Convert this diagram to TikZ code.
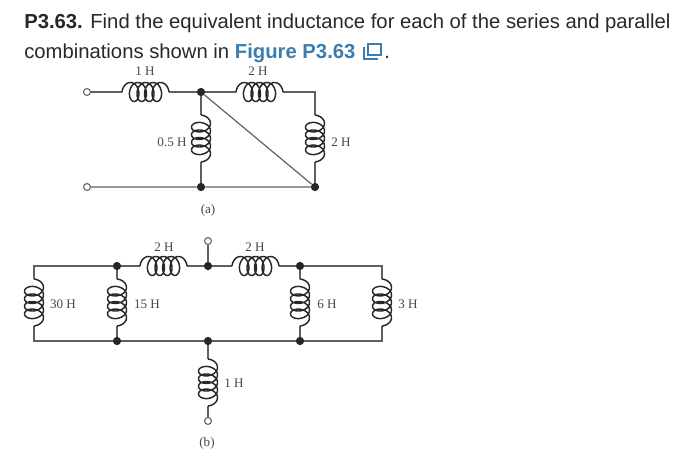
\documentclass[tikz,border=0pt]{standalone}
\usepackage{fontspec}
\setmainfont{Liberation Sans}
\newfontfamily\labelfont{Liberation Serif}
\definecolor{linkblue}{RGB}{60,125,175}
\definecolor{wiregray}{RGB}{95,95,95}
\definecolor{coilgray}{RGB}{40,40,40}
\definecolor{labelgray}{RGB}{70,70,70}
\definecolor{textgray}{RGB}{40,40,40}
\tikzset{
  wire/.style={draw=wiregray,line width=0.9pt},
  coilwire/.style={draw=coilgray,line width=1.1pt,line join=round},
  junction/.style={circle,fill=black!85,inner sep=0pt,minimum size=6.2pt},
  terminal/.style={circle,draw=wiregray,fill=white,line width=0.8pt,inner sep=0pt,minimum size=5.2pt},
  henry/.style={font=\labelfont\fontsize{9.8pt}{11pt}\selectfont,text=labelgray,inner sep=0pt},
  headline/.style={anchor=base west,inner sep=0pt,font=\fontsize{15.2pt}{18pt}\selectfont,text=textgray}
}
% five turns, from a wire end, along x
\newcommand{\coilturns}{plot[variable=\t,domain=0:1620,samples=325] ({\t/1620*34+6.5*(1-cos(\t))},{-9.5*sin(\t)})}
\begin{document}
\begin{tikzpicture}[x=0.75pt,y=-0.75pt]
\useasboundingbox (0,0) rectangle (700,467);
\node[headline] (line1) at (24,29) {\textbf{P3.63.} Find the equivalent inductance for each of the series and parallel};
\node[headline] (line2) at (24,59) {combinations shown in \textcolor{linkblue}{\textbf{Figure P3.63}}};
% link icon
\draw[linkblue,line width=1.2pt] (368,44) rectangle (381,55);
\draw[linkblue,line width=1.2pt] (364,47)--(364,59)--(378,59);
\node[headline] (dot) at (384,59) {.};
% circuit (a)
\node[terminal] (ta1) at (87,92) {};
\node[terminal] (ta2) at (87,187) {};
\node[junction] (ja1) at (201,92) {};
\node[junction] (ja2) at (201,187) {};
\node[junction] (ja3) at (315,187) {};
\coordinate (ca) at (315,92);
\coordinate (L1a) at (122,92);
\coordinate (L1b) at (169,92);
\coordinate (L2a) at (236,92);
\coordinate (L2b) at (283,92);
\coordinate (L3a) at (201,115);
\coordinate (L3b) at (201,162);
\coordinate (L4a) at (315,115);
\coordinate (L4b) at (315,162);
\draw[wire] (ta1)--(L1a) (L1b)--(ja1)--(L2a) (L2b)--(ca)--(L4a) (L4b)--(ja3);
\draw[wire] (ja1)--(L3a) (L3b)--(ja2);
\draw[wire] (ta2)--(ja2)--(ja3)--(ja1);
\foreach \a/\r in {L1a/0,L2a/0,L3a/-90,L4a/-90}
  \draw[coilwire,shift={(\a)},rotate=\r] \coilturns;
\node[henry] (la1) at (145,71) {1 H};
\node[henry] (la2) at (258,71) {2 H};
\node[henry] (la3) at (172,142) {0.5 H};
\node[henry] (la4) at (341,142) {2 H};
\node[henry] (capa) at (208,210) {(a)};
% circuit (b)
\node[terminal] (tb1) at (208,241) {};
\node[terminal] (tb2) at (208,421) {};
\node[junction] (jb1) at (117,266) {};
\node[junction] (jb2) at (208,266) {};
\node[junction] (jb3) at (300,266) {};
\node[junction] (jb4) at (117,341) {};
\node[junction] (jb5) at (208,341) {};
\node[junction] (jb6) at (300,341) {};
\coordinate (cb1) at (34,266);
\coordinate (cb2) at (382,266);
\coordinate (cb3) at (34,341);
\coordinate (cb4) at (382,341);
\coordinate (M1a) at (140,266);
\coordinate (M1b) at (187,266);
\coordinate (M2a) at (232,266);
\coordinate (M2b) at (279,266);
\coordinate (M3a) at (34,279);
\coordinate (M3b) at (34,326);
\coordinate (M4a) at (117,279);
\coordinate (M4b) at (117,326);
\coordinate (M5a) at (300,279);
\coordinate (M5b) at (300,326);
\coordinate (M6a) at (382,279);
\coordinate (M6b) at (382,326);
\coordinate (M7a) at (208,359);
\coordinate (M7b) at (208,406);
\draw[wire] (M3a)--(cb1)--(jb1)--(M1a) (M1b)--(jb2)--(M2a) (M2b)--(jb3)--(cb2)--(M6a);
\draw[wire] (M3b)--(cb3)--(jb4)--(jb5)--(jb6)--(cb4)--(M6b);
\draw[wire] (jb1)--(M4a) (M4b)--(jb4) (jb3)--(M5a) (M5b)--(jb6);
\draw[wire] (tb1)--(jb2) (jb5)--(M7a) (M7b)--(tb2);
\foreach \a/\r in {M1a/0,M2a/0,M3a/-90,M4a/-90,M5a/-90,M6a/-90,M7a/-90}
  \draw[coilwire,shift={(\a)},rotate=\r] \coilturns;
\node[henry] (lb1) at (164,247) {2 H};
\node[henry] (lb2) at (255,247) {2 H};
\node[henry] (lb3) at (63,304) {30 H};
\node[henry] (lb4) at (147,304) {15 H};
\node[henry] (lb5) at (327,304) {6 H};
\node[henry] (lb6) at (408,304) {3 H};
\node[henry] (lb7) at (234,383) {1 H};
\node[henry] (capb) at (207,443) {(b)};
\end{tikzpicture}
\end{document}
